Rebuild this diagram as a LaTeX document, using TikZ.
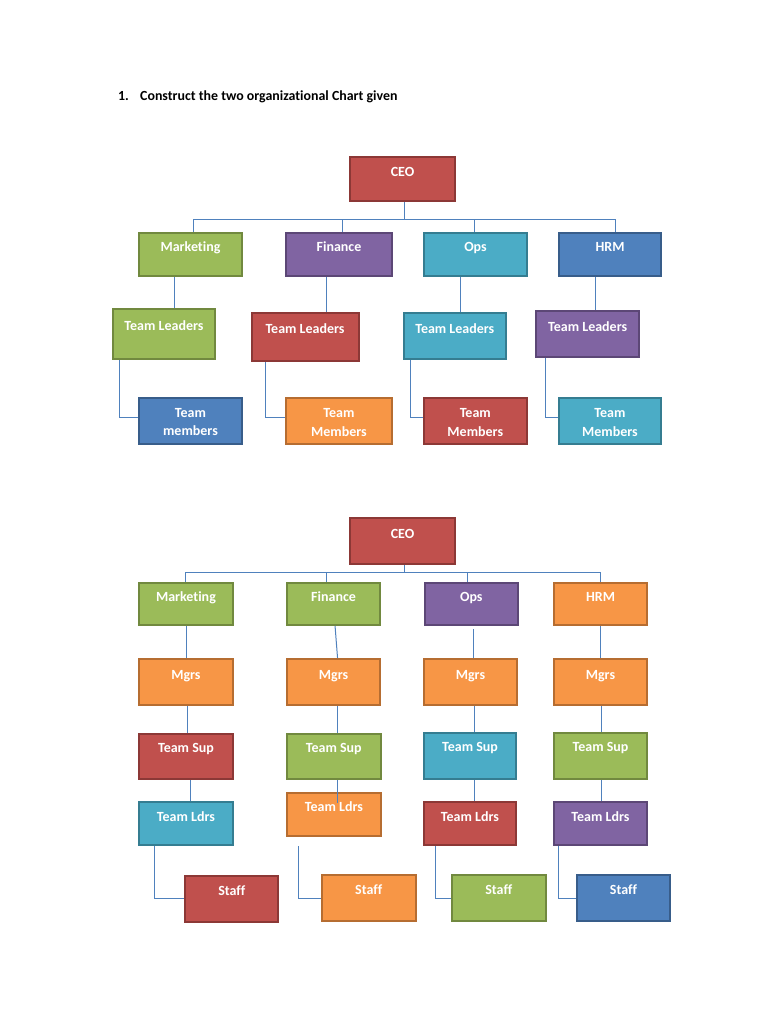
\documentclass[tikz,border=0pt]{standalone}
\usepackage{fontspec}
\setmainfont{Carlito}[Ligatures=NoCommon]
\usetikzlibrary{fit,calc}
\definecolor{cRed}{HTML}{C0504D}\definecolor{bRed}{HTML}{8C3836}
\definecolor{cGreen}{HTML}{9BBB59}\definecolor{bGreen}{HTML}{71893F}
\definecolor{cPurple}{HTML}{8064A2}\definecolor{bPurple}{HTML}{5C4776}
\definecolor{cTeal}{HTML}{4BACC6}\definecolor{bTeal}{HTML}{357D91}
\definecolor{cBlue}{HTML}{4F81BD}\definecolor{bBlue}{HTML}{385D8A}
\definecolor{cOrange}{HTML}{F79646}\definecolor{bOrange}{HTML}{B66D31}
\definecolor{lineBlue}{HTML}{4F81BD}
\tikzset{
  orgbox/.style={rectangle, inner sep=0pt, line width=2pt},
  redbox/.style={orgbox, fill=cRed, draw=bRed},
  greenbox/.style={orgbox, fill=cGreen, draw=bGreen},
  purplebox/.style={orgbox, fill=cPurple, draw=bPurple},
  tealbox/.style={orgbox, fill=cTeal, draw=bTeal},
  bluebox/.style={orgbox, fill=cBlue, draw=bBlue},
  orangebox/.style={orgbox, fill=cOrange, draw=bOrange},
  lbl/.style={text=white, inner sep=0pt, anchor=base, font=\fontsize{14}{16}\selectfont\bfseries},
  conn/.style={draw=lineBlue, line width=1pt},
  ttl/.style={anchor=base west, inner sep=0pt, font=\fontsize{13.9}{16}\selectfont\bfseries}
}
% name, style, x1, y1, x2, y2, text-centre-y, text
\newcommand\mkbox[8]{%
  \node[#2, fit={(#3,#4) (#5,#6)}] (#1) {};
  \node[lbl] (#1t) at ({(#3+#5)/2},{#7+4.6}) {#8};}
\begin{document}
\begin{tikzpicture}[x=1pt,y=-1pt]
\useasboundingbox[fill=white] (0,0) rectangle (768,1024);
% title
\node[ttl] (num) at (118,100.5) {1.};
\node[ttl] (title) at (140,100.5) {Construct the two organizational Chart given};

% ---------------- chart 1 ----------------
\mkbox{ceoA}{redbox}{350}{157}{455}{201}{171.7}{CEO}
\mkbox{mkA}{greenbox}{139}{233}{242}{276}{246.7}{Marketing}
\mkbox{fiA}{purplebox}{286}{233}{392}{276}{246.7}{Finance}
\mkbox{opA}{tealbox}{424}{233}{527}{276}{246.7}{Ops}
\mkbox{hrA}{bluebox}{559}{233}{661}{276}{246.7}{HRM}
\mkbox{tlA}{greenbox}{112.7}{309}{215.3}{359}{325.7}{Team Leaders}
\mkbox{tlB}{redbox}{251.6}{312.7}{358.5}{361}{329}{Team Leaders}
\mkbox{tlC}{tealbox}{403.6}{312.7}{506}{359}{328.7}{Team Leaders}
\mkbox{tlD}{purplebox}{536}{310.7}{639.3}{357}{326.7}{Team Leaders}
\mkbox{tmA}{bluebox}{139}{398}{242}{444}{412.7}{Team}
\node[lbl] (tmAb) at (190.5,435) {members};
\mkbox{tmB}{orangebox}{286}{398}{392}{444}{412.7}{Team}
\node[lbl] (tmBb) at (339,436.2) {Members};
\mkbox{tmC}{redbox}{423.6}{398}{527}{444}{412.7}{Team}
\node[lbl] (tmCb) at (475.3,436.2) {Members};
\mkbox{tmD}{tealbox}{559}{398}{661}{444}{412.7}{Team}
\node[lbl] (tmDb) at (610,436.2) {Members};

\coordinate (busA) at (404,220);
\draw[conn] ([xshift=1.5]ceoA.south) -- ([xshift=1.5]ceoA.south |- busA);
\draw[conn] ([xshift=3]mkA.north) |- ([xshift=5.6]hrA.north |- busA) -- ([xshift=5.6]hrA.north);
\draw[conn] ([xshift=3.5]fiA.north) -- ([xshift=3.5]fiA.north |- busA);
\draw[conn] ([xshift=-1]opA.north) -- ([xshift=-1]opA.north |- busA);
\draw[conn] ([xshift=10.5]tlA.north) -- ([xshift=10.5]tlA.north |- mkA.south);
\draw[conn] ([xshift=21.5]tlB.north) -- ([xshift=21.5]tlB.north |- fiA.south);
\draw[conn] ([xshift=6]tlC.north) -- ([xshift=6]tlC.north |- opA.south);
\draw[conn] ([xshift=8.3]tlD.north) -- ([xshift=8.3]tlD.north |- hrA.south);
\draw[conn] ([xshift=7.3]tlA.south west) |- ([yshift=4]tmA.west);
\draw[conn] ([xshift=14.4]tlB.south west) |- ([yshift=4]tmB.west);
\draw[conn] ([xshift=8]tlC.south west) |- ([yshift=4]tmC.west);
\draw[conn] ([xshift=10.5]tlD.south west) |- ([yshift=4]tmD.west);

% ---------------- chart 2 ----------------
\mkbox{ceoB}{redbox}{350}{518}{455}{564}{534.3}{CEO}
\mkbox{mkB}{greenbox}{138.6}{583}{233.3}{625}{597.3}{Marketing}
\mkbox{fiB}{greenbox}{286.7}{583}{380.4}{625}{597.3}{Finance}
\mkbox{opB}{purplebox}{424.6}{583}{518}{625}{597.3}{Ops}
\mkbox{hrB}{orangebox}{554}{583}{647}{625}{597.3}{HRM}
\mkbox{mgA}{orangebox}{138.6}{659}{233.3}{705}{675}{Mgrs}
\mkbox{mgB}{orangebox}{286.7}{659}{380.4}{705}{675}{Mgrs}
\mkbox{mgC}{orangebox}{424}{659}{517}{705}{675}{Mgrs}
\mkbox{mgD}{orangebox}{554}{659}{647}{705}{675}{Mgrs}
\mkbox{tsA}{redbox}{139}{734}{233}{779}{748.3}{Team Sup}
\mkbox{tsB}{greenbox}{286.8}{734}{380.7}{779}{748.3}{Team Sup}
\mkbox{tsC}{tealbox}{423.6}{732.7}{516.4}{778.7}{747}{Team Sup}
\mkbox{tsD}{greenbox}{554}{732.7}{647}{778.7}{747}{Team Sup}
\mkbox{ldA}{tealbox}{139}{802}{233}{845}{816.7}{Team Ldrs}
\mkbox{ldB}{orangebox}{287}{792.7}{381}{835.7}{806.7}{Team Ldrs}
\mkbox{ldC}{redbox}{423.6}{802}{516.4}{845}{816.7}{Team Ldrs}
\mkbox{ldD}{purplebox}{554}{802}{647}{845}{816.7}{Team Ldrs}
\mkbox{stA}{redbox}{185.4}{876}{278.2}{921.7}{891}{Staff}
\mkbox{stB}{orangebox}{321.8}{875}{415.7}{921}{890}{Staff}
\mkbox{stC}{greenbox}{452}{875}{545.7}{921}{890}{Staff}
\mkbox{stD}{bluebox}{577}{875}{670}{921}{890}{Staff}

\coordinate (busB) at (404,572.7);
\draw[conn] ([xshift=1.5]ceoB.south) -- ([xshift=1.5]ceoB.south |- busB);
\draw[conn] (mkB.north) |- ([xshift=0.2]hrB.north |- busB) -- ([xshift=0.2]hrB.north);
\draw[conn] ([xshift=-7.5]fiB.north) -- ([xshift=-7.5]fiB.north |- busB);
\draw[conn] ([xshift=-4]opB.north) -- ([xshift=-4]opB.north |- busB);
\draw[conn] ([xshift=0.7]mkB.south) -- ([xshift=0.7]mgA.north);
\draw[conn] ([xshift=1.5]fiB.south) -- ([xshift=4]mgB.north);
\draw[conn] ([xshift=3.2]mgC.north) -- ++(0,-29);
\draw[conn] (hrB.south) -- (mgD.north);
\draw[conn] ([xshift=1.5]tsA.north) -- ([xshift=1.5]tsA.north |- mgA.south);
\draw[conn] ([xshift=4.2]tsB.north) -- ([xshift=4.2]tsB.north |- mgB.south);
\draw[conn] ([xshift=4.6]tsC.north) -- ([xshift=4.6]tsC.north |- mgC.south);
\draw[conn] ([xshift=0.5]tsD.north) -- ([xshift=0.5]tsD.north |- mgD.south);
\draw[conn] ([xshift=4.2]tsA.south) -- ([xshift=4.2]tsA.south |- ldA.north);
\draw[conn] ([xshift=4.2]tsB.south) -- ++(0,23);
\draw[conn] ([xshift=4.6]tsC.south) -- ([xshift=4.6]tsC.south |- ldC.north);
\draw[conn] ([xshift=0.5]tsD.south) -- ([xshift=0.5]tsD.south |- ldD.north);
\draw[conn] ([xshift=16.7]ldA.south west) |- (stA.west);
\draw[conn] ([xshift=12.3,yshift=-9.3]ldB.south west) |- (stB.west);
\draw[conn] ([xshift=12.8]ldC.south west) |- (stC.west);
\draw[conn] ([xshift=5.3]ldD.south west) |- (stD.west);
\end{tikzpicture}
\end{document}
